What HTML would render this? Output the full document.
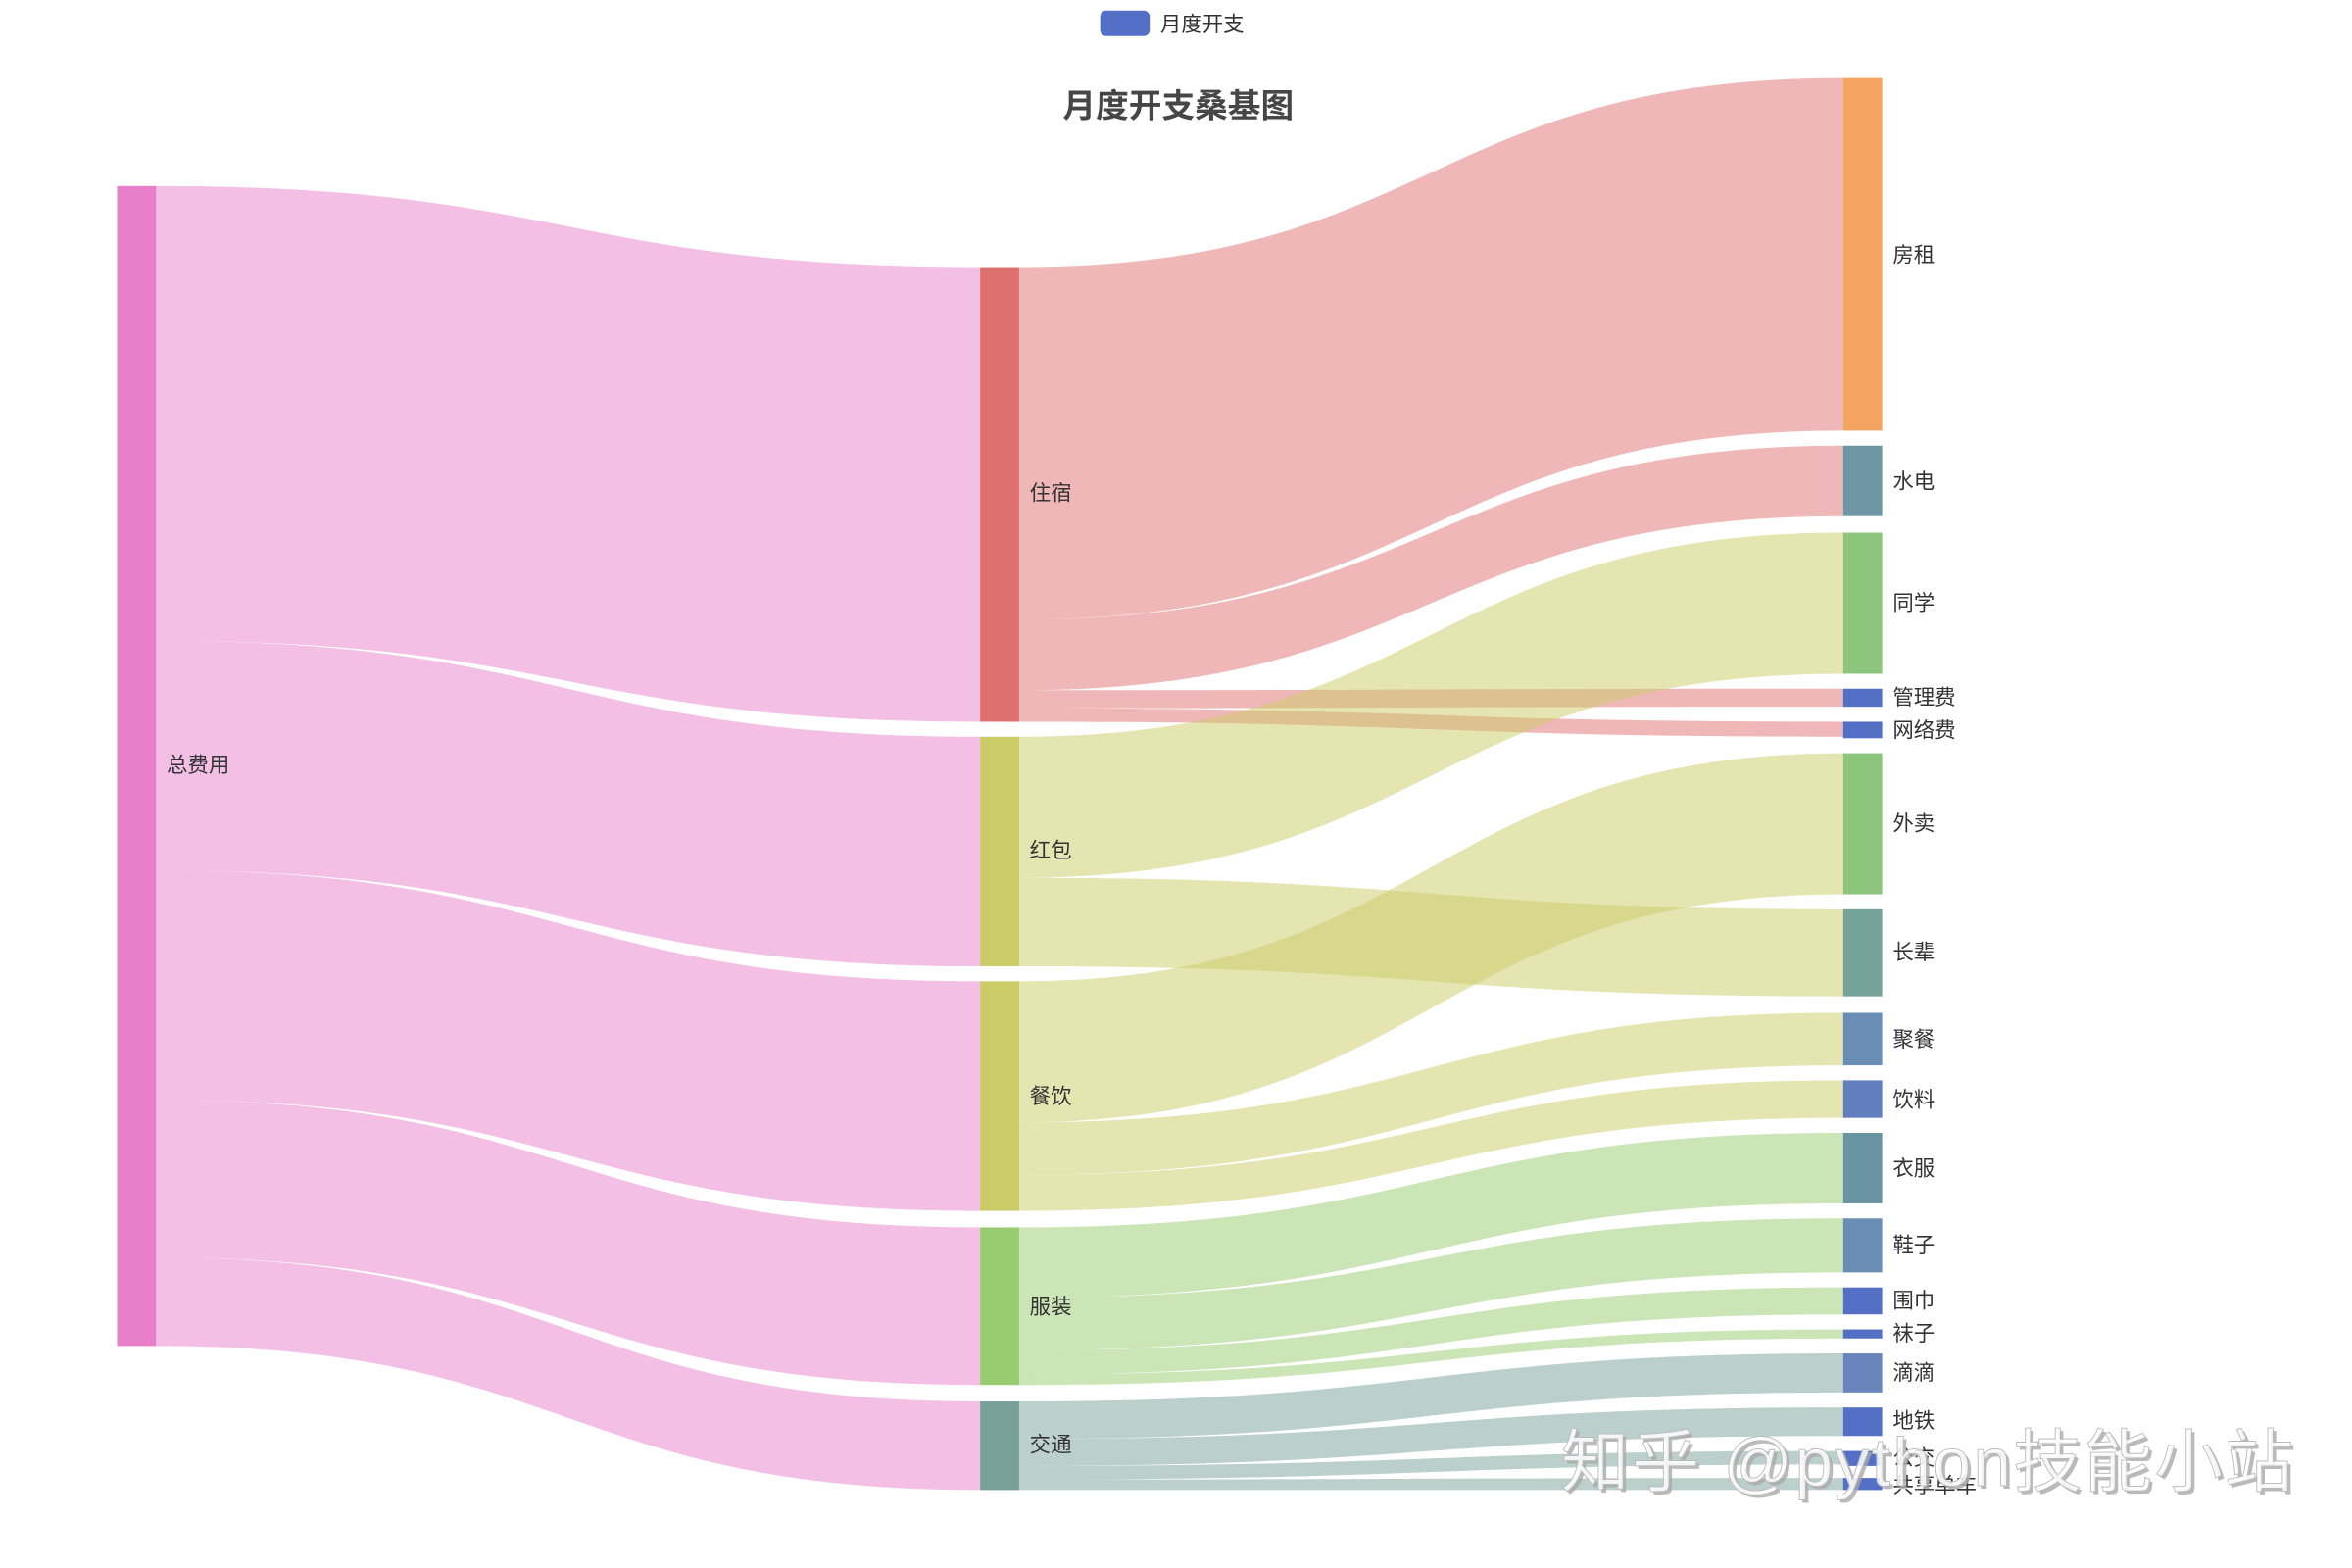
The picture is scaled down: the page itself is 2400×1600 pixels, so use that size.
<!DOCTYPE html>
<html><head><meta charset="utf-8"><style>
html,body{margin:0;padding:0;background:#fff;}
svg{display:block;}
text{font-family:"Liberation Sans","Noto Sans CJK SC",sans-serif;}
</style></head><body>
<svg width="2400" height="1600" viewBox="0 0 1567 1045" preserveAspectRatio="none" xmlns="http://www.w3.org/2000/svg">
<rect width="1567" height="1045" fill="#fff"/>
<rect x="733" y="7" width="33" height="17" rx="4" fill="#5470c6"/>
<text x="773" y="21" font-size="14" fill="#333">月度开支</text>
<text x="785" y="78" font-size="22" font-weight="bold" fill="#464646" text-anchor="middle">月度开支桑基图</text>
<g fill="#e87fc9" fill-opacity="0.5">
<path d="M104 124 C378.5 124 378.5 178 653 178 L653 481 C378.5 481 378.5 427 104 427Z"/>
<path d="M104 427 C378.5 427 378.5 491 653 491 L653 644 C378.5 644 378.5 580 104 580Z"/>
<path d="M104 580 C378.5 580 378.5 654 653 654 L653 807 C378.5 807 378.5 733 104 733Z"/>
<path d="M104 733 C378.5 733 378.5 818 653 818 L653 923 C378.5 923 378.5 838 104 838Z"/>
<path d="M104 838 C378.5 838 378.5 934 653 934 L653 993 C378.5 993 378.5 897 104 897Z"/>
</g>
<g fill="#e07070" fill-opacity="0.5">
<path d="M679 178 C953.5 178 953.5 52 1228 52 L1228 287 C953.5 287 953.5 413 679 413Z"/>
<path d="M679 413 C953.5 413 953.5 297 1228 297 L1228 344 C953.5 344 953.5 460 679 460Z"/>
<path d="M679 460 C953.5 460 953.5 459 1228 459 L1228 471 C953.5 471 953.5 472 679 472Z"/>
<path d="M679 472 C953.5 472 953.5 481 1228 481 L1228 491 C953.5 491 953.5 481 679 481Z"/>
</g>
<g fill="#cccc66" fill-opacity="0.5">
<path d="M679 491 C953.5 491 953.5 355 1228 355 L1228 449 C953.5 449 953.5 585 679 585Z"/>
<path d="M679 585 C953.5 585 953.5 606 1228 606 L1228 664 C953.5 664 953.5 644 679 644Z"/>
<path d="M679 654 C953.5 654 953.5 502 1228 502 L1228 596 C953.5 596 953.5 748 679 748Z"/>
<path d="M679 748 C953.5 748 953.5 675 1228 675 L1228 710 C953.5 710 953.5 783 679 783Z"/>
<path d="M679 783 C953.5 783 953.5 720 1228 720 L1228 745 C953.5 745 953.5 807 679 807Z"/>
</g>
<g fill="#99cc70" fill-opacity="0.5">
<path d="M679 818 C953.5 818 953.5 755 1228 755 L1228 802 C953.5 802 953.5 865 679 865Z"/>
<path d="M679 865 C953.5 865 953.5 812 1228 812 L1228 848 C953.5 848 953.5 900 679 900Z"/>
<path d="M679 900 C953.5 900 953.5 858 1228 858 L1228 876 C953.5 876 953.5 916 679 916Z"/>
<path d="M679 916 C953.5 916 953.5 886 1228 886 L1228 892 C953.5 892 953.5 923 679 923Z"/>
</g>
<g fill="#77a09a" fill-opacity="0.5">
<path d="M679 934 C953.5 934 953.5 902 1228 902 L1228 928 C953.5 928 953.5 959 679 959Z"/>
<path d="M679 959 C953.5 959 953.5 938 1228 938 L1228 957 C953.5 957 953.5 977 679 977Z"/>
<path d="M679 977 C953.5 977 953.5 967 1228 967 L1228 976 C953.5 976 953.5 986 679 986Z"/>
<path d="M679 986 C953.5 986 953.5 985 1228 985 L1228 993 C953.5 993 953.5 993 679 993Z"/>
</g>
<rect x="78" y="124" width="26" height="773" fill="#e87fc9"/>
<rect x="653" y="178" width="26" height="303" fill="#e07070"/>
<rect x="653" y="491" width="26" height="153" fill="#cccc66"/>
<rect x="653" y="654" width="26" height="153" fill="#cccc66"/>
<rect x="653" y="818" width="26" height="105" fill="#99cc70"/>
<rect x="653" y="934" width="26" height="59" fill="#77a09a"/>
<rect x="1228" y="52" width="26" height="235" fill="#f4a460"/>
<rect x="1228" y="297" width="26" height="47" fill="#6f97a3"/>
<rect x="1228" y="355" width="26" height="94" fill="#8dc57d"/>
<rect x="1228" y="459" width="26" height="12" fill="#5470c6"/>
<rect x="1228" y="481" width="26" height="11" fill="#5470c6"/>
<rect x="1228" y="502" width="26" height="94" fill="#8dc57d"/>
<rect x="1228" y="606" width="26" height="58" fill="#75a39b"/>
<rect x="1228" y="675" width="26" height="35" fill="#6a8db5"/>
<rect x="1228" y="720" width="26" height="25" fill="#617fbf"/>
<rect x="1228" y="755" width="26" height="47" fill="#6a93a3"/>
<rect x="1228" y="812" width="26" height="36" fill="#6a8db5"/>
<rect x="1228" y="858" width="26" height="18" fill="#5470c6"/>
<rect x="1228" y="886" width="26" height="6" fill="#5470c6"/>
<rect x="1228" y="902" width="26" height="26" fill="#6a85bb"/>
<rect x="1228" y="938" width="26" height="19" fill="#5470c6"/>
<rect x="1228" y="967" width="26" height="10" fill="#5470c6"/>
<rect x="1228" y="985" width="26" height="8" fill="#5470c6"/>
<g font-size="14" fill="#333" dominant-baseline="central">
<text x="111" y="510">总费用</text>
<text x="686" y="329">住宿</text>
<text x="686" y="567">红包</text>
<text x="686" y="731">餐饮</text>
<text x="686" y="871">服装</text>
<text x="686" y="963">交通</text>
<text x="1261" y="170">房租</text>
<text x="1261" y="321">水电</text>
<text x="1261" y="402">同学</text>
<text x="1261" y="465">管理费</text>
<text x="1261" y="487">网络费</text>
<text x="1261" y="549">外卖</text>
<text x="1261" y="635">长辈</text>
<text x="1261" y="693">聚餐</text>
<text x="1261" y="733">饮料</text>
<text x="1261" y="779">衣服</text>
<text x="1261" y="830">鞋子</text>
<text x="1261" y="867">围巾</text>
<text x="1261" y="889">袜子</text>
<text x="1261" y="915">滴滴</text>
<text x="1261" y="947">地铁</text>
<text x="1261" y="972">公交</text>
<text x="1261" y="990">共享单车</text>
</g>
<text x="1042" y="992" font-size="45.5" letter-spacing="1.5" fill="#aaa" opacity="0.8">知乎 @python技能小站</text>
<text x="1040" y="990" font-size="45.5" letter-spacing="1.5" fill="#fff" fill-opacity="0.85" stroke="#bbb" stroke-width="0.6">知乎 @python技能小站</text>
</svg>
</body></html>
